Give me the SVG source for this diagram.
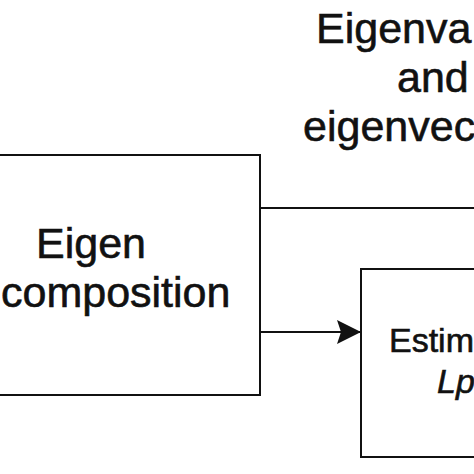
<svg xmlns="http://www.w3.org/2000/svg" width="474" height="474" viewBox="0 0 474 474">
<defs>
<style>
.box{fill:#fff;stroke:#111;stroke-width:2}
.ln{fill:none;stroke:#111;stroke-width:2}
.t{font-family:"Liberation Sans",Arial,sans-serif;fill:#111;stroke:#111;stroke-width:0.6}
.big{font-size:43px}
.mid{font-size:34px}
</style>
<marker id="ah" viewBox="0 0 24 24" markerWidth="24" markerHeight="24" refX="23" refY="12" orient="auto" markerUnits="userSpaceOnUse">
<path d="M0,0 L24,12 L0,24 L4,12 Z" fill="#111"/>
</marker>
</defs>
<rect width="474" height="474" fill="#fff"/>
<g id="node-eigen">
<rect class="box" x="-10" y="155" width="270" height="240"/>
<text class="t big" x="36" y="258">Eigen</text>
<text class="t big" x="1" y="307">composition</text>
</g>
<g id="node-estim">
<rect class="box" x="361" y="269" width="130" height="188"/>
<text class="t mid" x="389" y="352">Estim</text>
<text class="t mid" x="437" y="393" font-style="italic">Lp</text>
</g>
<g id="label-eigen">
<text class="t big" x="316" y="43">Eigenva</text>
<text class="t big" x="397" y="92">and</text>
<text class="t big" x="303" y="141">eigenvec</text>
</g>
<g id="connectors">
<path class="ln" d="M260,208 H480"/>
<path class="ln" d="M260,332 H360" marker-end="url(#ah)"/>
</g>
</svg>
